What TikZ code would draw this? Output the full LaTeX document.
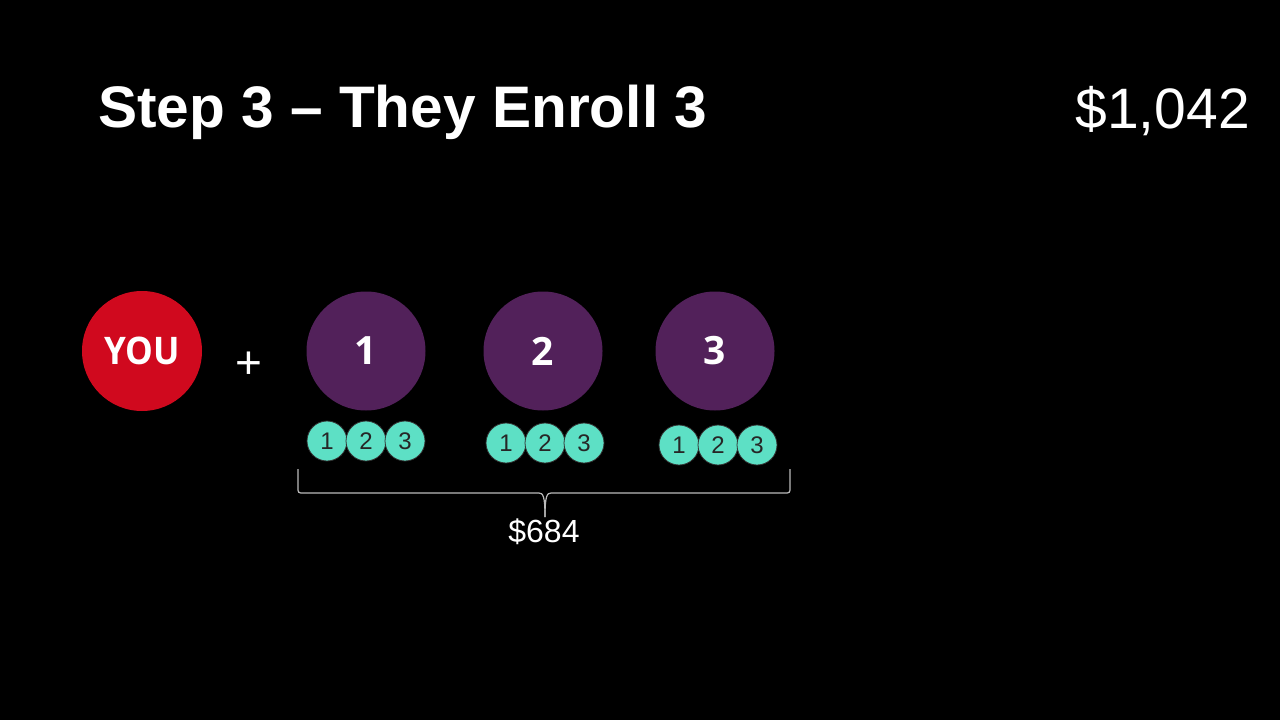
\documentclass[tikz,border=0pt]{standalone}
\usepackage{fontspec}
\setmainfont{Liberation Sans}
\newfontfamily\opensans{Open Sans}
\definecolor{youred}{HTML}{D0091E}
\definecolor{leadpurple}{HTML}{52215A}
\definecolor{subteal}{HTML}{5DE0C5}
\definecolor{bracegray}{HTML}{BBBBBB}

\begin{document}
\begin{tikzpicture} [x=1pt, y=-1pt, lead/.style={circle, fill=leadpurple, minimum size=119pt, inner sep=0pt, text=white, font=\opensans\bfseries\fontsize{39}{39}\selectfont}, sub/.style={circle, fill=subteal, draw=black!80, line width=0.8pt, minimum size=40pt, inner sep=0pt, text=black!85, font=\fontsize{24}{24}\selectfont}]
	\useasboundingbox (0,0) rectangle (1280,720);
	\fill [black] (0,0) rectangle (1280,720);

	% title and total
	\node [anchor=base west, text=white, inner sep=0pt, font=\bfseries\fontsize{58.6}{58.6}\selectfont] (title) at (98,127) {Step 3 -- They Enroll 3};
	\node [anchor=base east, text=white, inner sep=0pt, font=\fontsize{57}{57}\selectfont] (total) at (1250,128) {\$1,042};

	% you and the first level
	\node [circle, fill=youred, minimum size=120pt, inner sep=0pt, text=white, font=\opensans\bfseries\fontsize{38}{38}\selectfont] (you) at (142,351) {\scalebox{0.92}[1]{YOU}};
	\node [anchor=base, text=white, inner sep=0pt, font=\fontsize{46}{46}\selectfont] (plus) at (249,378) {+};
	\node [lead] (lead1) at (366,351) {1};
	\node [lead] (lead2) at (543,351) {2};
	\node [lead] (lead3) at (715,351) {3};

	% their enrollments
	\node [sub] (sub11) at (327,441) {1};
	\node [sub] (sub12) at (366,441) {2};
	\node [sub] (sub13) at (405,441) {3};
	\node [sub] (sub21) at (506,443) {1};
	\node [sub] (sub22) at (545,443) {2};
	\node [sub] (sub23) at (584,443) {3};
	\node [sub] (sub31) at (679,445) {1};
	\node [sub] (sub32) at (718,445) {2};
	\node [sub] (sub33) at (757,445) {3};

	% brace and sum
	\coordinate (braceleft) at (298,469);
	\coordinate (braceright) at (790,469);
	\coordinate (bracetip) at (545,517);
	\draw [bracegray, line width=1.2pt] (braceleft) -- ++(0,18) .. controls ++(0,6) and ++(-6,0) .. ++(6,6) -- (539,493) .. controls (543,493) and (545,496) .. (bracetip);
	\draw [bracegray, line width=1.2pt] (braceright) -- ++(0,18) .. controls ++(0,6) and ++(6,0) .. ++(-6,6) -- (551,493) .. controls (547,493) and (545,496) .. (bracetip);
	\node [anchor=base, text=white, inner sep=0pt, font=\fontsize{32}{32}\selectfont] (sum) at (544,542) {\$684};
\end{tikzpicture}
\end{document}
